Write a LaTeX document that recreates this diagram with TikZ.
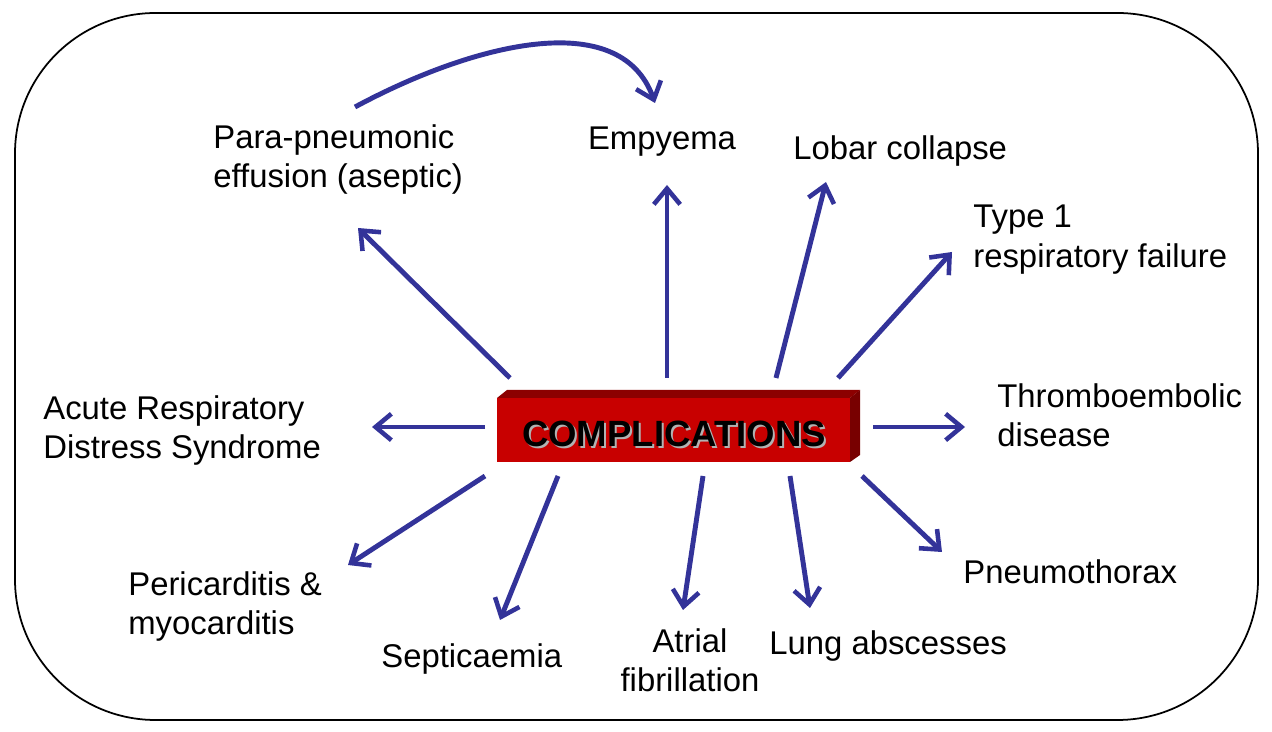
\documentclass[tikz,border=0pt]{standalone}
\usepackage{fontspec}
\setmainfont{Liberation Sans}
\usetikzlibrary{arrows.meta, calc}
\definecolor{navy}{HTML}{333399}
\definecolor{boxred}{HTML}{C80000}

\begin{document}
\begin{tikzpicture} [
    x=0.02cm, y=-0.02cm,
    label/.style={font=\fontsize{18.7}{22.5}\selectfont, align=left, inner sep=0pt, anchor=north west},
    arrow/.style={-{Straight Barb[length=9pt, width=15pt, line width=2.6pt]}, line width=2.8pt, navy}
]

\useasboundingbox (0,0) rectangle (1272,732);
\draw[line width=1pt, rounded corners=80] (15,13) rectangle (1258,720);

% Centre box
\fill[boxred!70!black] (497,398) -- (507,390) -- (860,390) -- (850,398) -- cycle;
\fill[boxred!60!black] (850,398) -- (860,390) -- (860,455) -- (850,462) -- cycle;
\node[fill=boxred, minimum width=353*0.02cm, minimum height=64*0.02cm, inner sep=0pt] (box) at (673.5,430) {};
\node[font=\fontsize{20.8}{24}\selectfont\bfseries, text=gray!60] at (676,436) {COMPLICATIONS};
\node[font=\fontsize{20.8}{24}\selectfont\bfseries] (comp) at (674,434) {COMPLICATIONS};

% Labels
\node[label] (para) at (213,124) {Para-pneumonic\\effusion (aseptic)};
\node[label, anchor=north] (emp) at (662,127) {Empyema};
\node[label] (lobar) at (793,135) {Lobar collapse};
\node[label] (type) at (973,205) {Type 1\\respiratory failure};
\node[label] (ards) at (43,395) {Acute Respiratory\\Distress Syndrome};
\node[label] (thromb) at (997,383) {Thromboembolic\\disease};
\node[label] (peri) at (128,571) {Pericarditis \&\\myocarditis};
\node[label] (sept) at (381,643) {Septicaemia};
\node[label, align=center, anchor=north] (atrial) at (690,628) {Atrial\\fibrillation};
\node[label] (lung) at (769,630) {Lung abscesses};
\node[label] (pneu) at (963,559) {Pneumothorax};

% Arrow ends
\coordinate (c1) at (358,228);  \coordinate (s1) at (510,378);
\coordinate (c2) at (667,185);  \coordinate (s2) at (667,378);
\coordinate (c3) at (826,182);  \coordinate (s3) at (776,378);
\coordinate (c4) at (952,252);  \coordinate (s4) at (838,378);
\coordinate (c5) at (372,427);  \coordinate (s5) at (485,427);
\coordinate (c6) at (965,427);  \coordinate (s6) at (873,427);
\coordinate (c7) at (348,565);  \coordinate (s7) at (485,476);
\coordinate (c8) at (500,620);  \coordinate (s8) at (558,476);
\coordinate (c9) at (683,610);  \coordinate (s9) at (703,476);
\coordinate (c10) at (810,608); \coordinate (s10) at (790,476);
\coordinate (c11) at (942,552); \coordinate (s11) at (862,476);
\coordinate (p1) at (355,107);  \coordinate (p2) at (655,103);

\foreach \i in {1,...,11}
    \draw[arrow] (s\i) -- (c\i);
\draw[arrow] (p1) .. controls (470,45) and (620,5) .. (p2);

\end{tikzpicture}
\end{document}
